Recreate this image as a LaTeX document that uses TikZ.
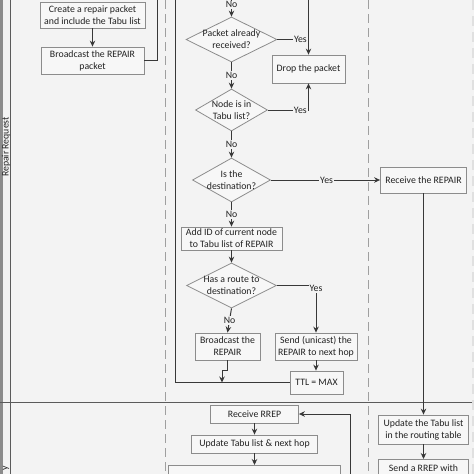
\documentclass[tikz,border=0pt]{standalone}
\usepackage{fontspec}
\setmainfont{Carlito}
\usetikzlibrary{shapes.geometric,arrows.meta}
\definecolor{bg}{HTML}{F3F3F3}
\definecolor{boxfill}{HTML}{F7F7F7}
\definecolor{boxline}{HTML}{8C8C8C}
\definecolor{flow}{HTML}{383838}
\definecolor{lanecol}{HTML}{5A5A5A}
\definecolor{txt}{HTML}{222222}
\begin{document}
\begin{tikzpicture}[x=1pt,y=-1pt,>={Stealth[length=6pt,width=5.5pt]},
  every node/.style={font=\fontsize{9.8}{12}\selectfont, text=txt},
  box/.style={draw=boxline, fill=boxfill, line width=0.8pt, align=center, inner sep=1.5pt},
  dec/.style={diamond, draw=boxline, fill=boxfill, line width=0.8pt, inner sep=0pt},
  dectext/.style={align=center, inner sep=0pt},
  lbl/.style={fill=bg, inner sep=1pt},
  flowline/.style={draw=flow, line width=1pt},
  lanetext/.style={rotate=90, inner sep=0pt}]
\useasboundingbox (0,0) rectangle (474,474);
\clip (0,0) rectangle (474,474);
\fill[bg] (0,0) rectangle (474,474);
%% lanes
\fill[boxline] (0,0) rectangle (2.5,474);
\draw[lanecol, line width=0.8pt] (10,0) -- (10,474);
\draw[lanecol, line width=0.8pt] (0,402) -- (474,402);
\draw[gray!75, line width=1pt, dash pattern=on 9pt off 5pt] (165,0) -- (165,474);
\draw[gray!75, line width=1pt, dash pattern=on 9pt off 5pt] (368,0) -- (368,474);
\draw[black!12, line width=2pt, dash pattern=on 10pt off 6pt] (472.5,0) -- (472.5,474);
\node[lanetext] (req) at (6,147) {Repair Request};
\node[lanetext] (rep) at (6,468.5) {y};
%% left column
\node[box, minimum width=105pt, minimum height=26pt] (create) at (92.5,15) {Create a repair packet\\and include the Tabu list};
\node[box, minimum width=103pt, minimum height=27pt] (bcastpkt) at (92.5,60.5) {Broadcast the REPAIR\\packet};
\coordinate (upA) at (157,-5);
\draw[flowline,->] (create) -- (bcastpkt);
\draw[flowline] (bcastpkt.east) -| (upA);
%% middle column
\node[dec, minimum width=91pt, minimum height=45pt] (recvd) at (231.5,39.5) {};
\node[dectext] (recvdtxt) at (recvd) {Packet already\\received?};
\node[box, minimum width=73pt, minimum height=28pt] (drop) at (308.5,69) {Drop the packet};
\node[dec, minimum width=72pt, minimum height=42pt] (intabu) at (231.5,110) {};
\node[dectext] (intabutxt) at (intabu) {Node is in\\Tabu list?};
\node[dec, minimum width=78pt, minimum height=44pt] (isdest) at (231.5,180) {};
\node[dectext] (isdesttxt) at (isdest) {Is the\\destination?};
\node[box, minimum width=101pt, minimum height=23pt] (addid) at (231.5,238.5) {Add ID of current node\\to Tabu list of REPAIR};
\node[dec, minimum width=90pt, minimum height=45pt] (hasroute) at (231.5,285.5) {};
\node[dectext] (hasroutetxt) at (hasroute) {Has a route to\\destination?};
\node[box, minimum width=65pt, minimum height=27pt] (bcastrep) at (227.5,346.5) {Broadcast the\\REPAIR};
\node[box, minimum width=82pt, minimum height=27pt] (unicast) at (316,346.5) {Send (unicast) the\\REPAIR to next hop};
\node[box, minimum width=53pt, minimum height=23pt] (ttl) at (316.5,382.5) {TTL = MAX};
\coordinate (topNo) at (231.5,-7);
\coordinate (topDrop) at (308.5,-5);
\coordinate (upLoop) at (175,-5);
\coordinate (joinB) at (222,382.5);
%% right column
\node[box, minimum width=86pt, minimum height=26pt] (gotrep) at (423.5,180) {Receive the REPAIR};
\node[box, minimum width=90pt, minimum height=29pt] (updroute) at (423.5,429.5) {Update the Tabu list\\in the routing table};
\node[box, minimum width=90pt, minimum height=30pt, anchor=north] (sendrrep) at (423.5,459) {Send a RREP with\\\mbox{}};
%% reply lane
\node[box, minimum width=88pt, minimum height=18pt] (gotrrep) at (254.5,414) {Receive RREP};
\node[box, minimum width=126pt, minimum height=18pt] (updhop) at (254.5,444) {Update Tabu list \& next hop};
\node[box, minimum width=172pt, minimum height=20pt, anchor=north] (pickhop) at (254.5,465) {};
\coordinate (fromBelow) at (350,480);
%% connectors
\draw[flowline,->] (topNo) -- node[lbl]{No} (recvd.north);
\draw[flowline,->] (topDrop) -- (drop.north);
\draw[flowline] (recvd.east) -- node[lbl,pos=0.74]{Yes} (recvd.east -| drop.north);
\draw[flowline,->] (recvd.south) -- node[lbl]{No} (intabu.north);
\draw[flowline,->] (intabu.east) -- node[lbl,pos=0.8]{Yes} (intabu.east -| drop.south) -- (drop.south);
\draw[flowline,->] (intabu.south) -- node[lbl]{No} (isdest.north);
\draw[flowline,->] (isdest.east) -- node[lbl,pos=0.51]{Yes} (gotrep.west);
\draw[flowline,->] (isdest.south) -- node[lbl]{No} (addid.north);
\draw[flowline,->] (addid.south) -- (hasroute.north);
\draw[flowline,->] (hasroute.east) -| node[lbl,pos=0.5,yshift=-3pt]{Yes} (unicast.north);
\draw[flowline,->] (hasroute.south) -- node[lbl]{No} (bcastrep.north);
\draw[flowline,->] (unicast.south) -- (unicast.south |- ttl.north);
\draw[flowline,->] (bcastrep.south) -- ++(0,10) -| (joinB);
\draw[flowline] (ttl.west) -| (upLoop);
\draw[flowline,->] (gotrep.south) -- (updroute.north);
\draw[flowline,->] (updroute.south) -- (sendrrep.north);
\draw[flowline,->] (gotrrep.south) -- (gotrrep.south |- updhop.north);
\draw[flowline,->] (updhop.south) -- (updhop.south |- pickhop.north);
\draw[flowline,->] (fromBelow) |- (gotrrep.east);
\end{tikzpicture}
\end{document}
